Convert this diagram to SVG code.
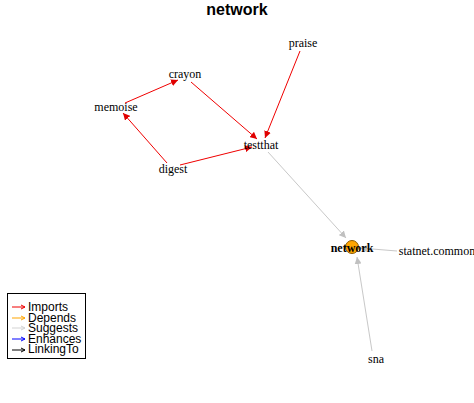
<svg xmlns="http://www.w3.org/2000/svg" width="474" height="403" viewBox="0 0 474 403">
<style>
.lbl{font-family:"Liberation Serif",serif;font-size:12px;text-anchor:middle;fill:#000}
.bold{font-weight:bold}
.imp{stroke:#f00000;stroke-width:1;fill:none}
.sug{stroke:#c8c8c8;stroke-width:1;fill:none}
.leg{font-family:"Liberation Sans",sans-serif;font-size:12px;fill:#000}
</style>
<defs>
<marker id="ar" viewBox="0 0 10 10" refX="10" refY="5" markerWidth="7" markerHeight="7" orient="auto" markerUnits="userSpaceOnUse"><path d="M0,0L10,5L0,10z" fill="#e00000"/></marker>
<marker id="ag" viewBox="0 0 10 10" refX="10" refY="5" markerWidth="7" markerHeight="7" orient="auto" markerUnits="userSpaceOnUse"><path d="M0,0L10,5L0,10z" fill="#c0c0c0"/></marker>
</defs>
<rect width="474" height="403" fill="#fff"/>
<text x="237" y="15" font-family="Liberation Sans,sans-serif" font-size="16" font-weight="bold" text-anchor="middle">network</text>
<g id="connectors">
<line class="imp" x1="300" y1="51" x2="265" y2="138" marker-end="url(#ar)"/>
<line class="imp" x1="191" y1="82" x2="257" y2="139" marker-end="url(#ar)"/>
<line class="imp" x1="125" y1="103" x2="178" y2="80" marker-end="url(#ar)"/>
<line class="imp" x1="167" y1="163" x2="123" y2="113" marker-end="url(#ar)"/>
<line class="imp" x1="180" y1="165" x2="252" y2="147" marker-end="url(#ar)"/>
<line class="sug" x1="268" y1="152" x2="346" y2="238" marker-end="url(#ag)"/>
<line class="sug" x1="397" y1="251" x2="360" y2="248" marker-end="url(#ag)"/>
<line class="sug" x1="372" y1="351" x2="357" y2="257" marker-end="url(#ag)"/>
</g>
<g id="praise"><text class="lbl" x="303" y="47">praise</text></g>
<g id="crayon"><text class="lbl" x="185" y="78">crayon</text></g>
<g id="memoise"><text class="lbl" x="116" y="111">memoise</text></g>
<g id="testthat"><text class="lbl" x="261" y="149">testthat</text></g>
<g id="digest"><text class="lbl" x="173" y="173">digest</text></g>
<g id="network"><circle cx="352" cy="247" r="6.5" fill="#ffa500" stroke="#8b5a00" stroke-width="1"/><text class="lbl bold" x="352" y="252">network</text></g>
<g id="statnet.common"><text class="lbl" x="437" y="255">statnet.common</text></g>
<g id="sna"><text class="lbl" x="376" y="363">sna</text></g>
<g id="legend">
<rect x="7.5" y="293.5" width="78" height="65" fill="#fff" stroke="#000"/>
<g stroke-width="1" fill="none">
<path d="M12,307H25M21,305L25,307L21,309" stroke="#f00000"/>
<path d="M12,318H25M21,316L25,318L21,320" stroke="#ffa500"/>
<path d="M12,328H25M21,326L25,328L21,330" stroke="#d3d3d3"/>
<path d="M12,339H25M21,337L25,339L21,341" stroke="#0000ff"/>
<path d="M12,350H25M21,348L25,350L21,352" stroke="#000"/>
</g>
<text class="leg" x="28" y="311">Imports</text>
<text class="leg" x="28" y="321.5">Depends</text>
<text class="leg" x="28" y="332">Suggests</text>
<text class="leg" x="28" y="342.5">Enhances</text>
<text class="leg" x="28" y="353">LinkingTo</text>
</g>
</svg>
